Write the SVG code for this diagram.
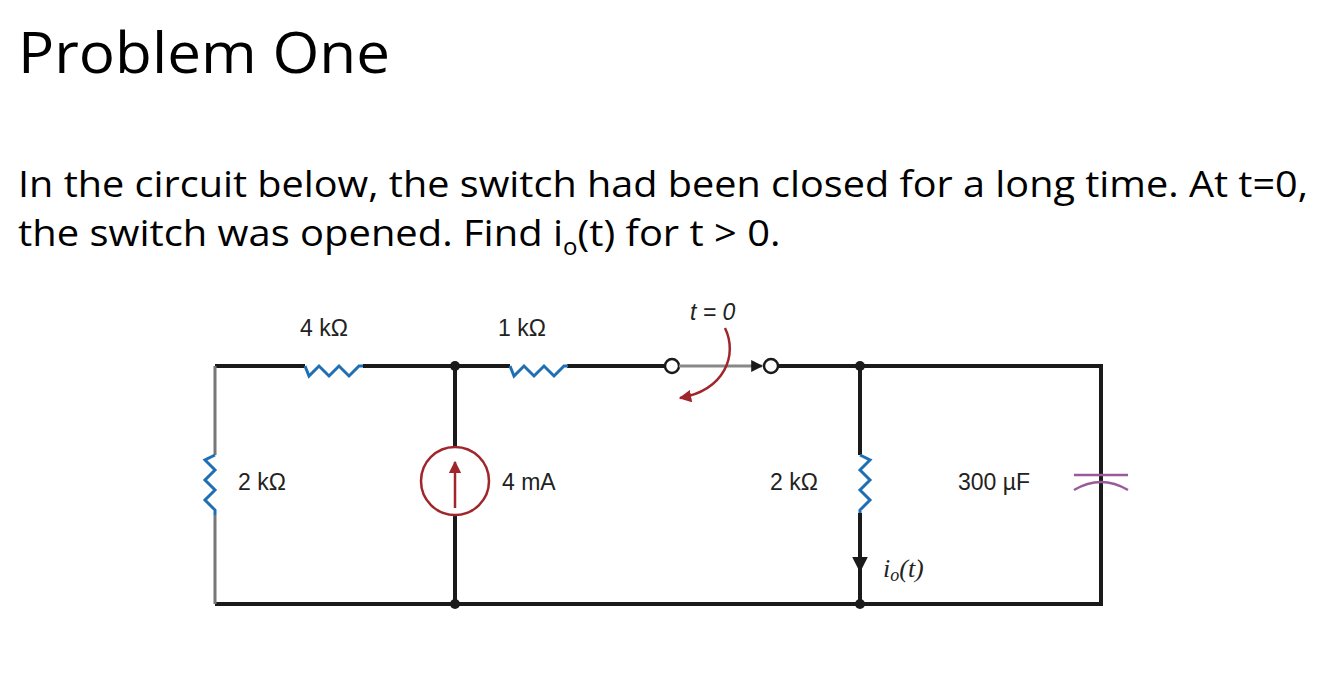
<svg xmlns="http://www.w3.org/2000/svg" width="1332" height="683" viewBox="0 0 1332 683">
<style>
.t{font-family:"Open Sans","Liberation Sans",sans-serif;fill:#000}
.l{font-family:"Liberation Sans",Arial,sans-serif;font-size:23px;fill:#222}
.w{stroke:#1a1a1a;stroke-width:4;fill:none}
.r{stroke:#1f6fb5;stroke-width:3;fill:none;stroke-linejoin:miter}
</style>
<defs>
<marker id="ah" viewBox="0 0 10 10" refX="9" refY="5" markerWidth="4" markerHeight="4" orient="auto"><path d="M0,0L10,5L0,10z" fill="#1a1a1a"/></marker>
<marker id="ahr" viewBox="0 0 10 10" refX="9" refY="5" markerWidth="5" markerHeight="5" orient="auto"><path d="M0,0L10,5L0,10z" fill="#a0262c"/></marker>
</defs>
<rect width="1332" height="683" fill="#fff"/>
<text class="t" x="18" y="73" font-size="56" textLength="372" lengthAdjust="spacingAndGlyphs">Problem One</text>
<text class="t" x="18" y="197" font-size="36" textLength="1290" lengthAdjust="spacingAndGlyphs">In the circuit below, the switch had been closed for a long time. At t=0,</text>
<text class="t" x="18" y="246" font-size="36"><tspan textLength="545" lengthAdjust="spacingAndGlyphs">the switch was opened. Find i</tspan><tspan font-size="24" dy="9">o</tspan><tspan dy="-9" textLength="203" lengthAdjust="spacingAndGlyphs">(t) for t &gt; 0.</tspan></text>
<g id="connectors">
<path class="w" d="M215,366H305M363,366H510M567,366H666M778,366H1101V604H215" />
<path d="M215,366V455M215,515V604" stroke="#777" stroke-width="3" fill="none"/>
<path class="w" d="M455,366V447M455,515V604"/>
<path class="w" d="M860,366V455M860,513V604"/>
<path d="M860,556V571" stroke="#1a1a1a" stroke-width="4" marker-end="url(#ah)"/>
</g>
<g id="r4k"><path class="r" d="M305,366l4,10 10,-10 10,10 10,-10 10,10 10,-10 4,0"/><text class="l" x="300" y="336">4 kΩ</text></g>
<g id="r1k"><path class="r" d="M510,366l4,10 10,-10 10,10 10,-10 10,10 10,-10 4,0"/><text class="l" x="498" y="336">1 kΩ</text></g>
<g id="r2kL"><path class="r" d="M215,455l-10,5 10,10 -10,10 10,10 -10,10 10,10 0,5"/><text class="l" x="238" y="490">2 kΩ</text></g>
<g id="isrc"><circle cx="455" cy="481" r="34" fill="none" stroke="#a0262c" stroke-width="2.5"/><path d="M455,508V462" stroke="#a0262c" stroke-width="2.5" marker-end="url(#ahr)"/><text class="l" x="502" y="490">4 mA</text></g>
<g id="switch"><circle cx="672" cy="366" r="7" fill="#fff" stroke="#1a1a1a" stroke-width="2.5"/><circle cx="771" cy="366" r="7" fill="#fff" stroke="#1a1a1a" stroke-width="2.5"/><path d="M679,366H762" stroke="#888" stroke-width="3" marker-end="url(#ah)"/><path d="M725,328C738,355 725,390 680,398" stroke="#a0262c" stroke-width="2.5" fill="none" marker-end="url(#ahr)"/><text class="l" x="690" y="320" font-style="italic">t = 0</text></g>
<g id="r2kR"><path class="r" d="M860,455l10,5 -10,10 10,10 -10,10 10,10 -10,10 0,3"/><text class="l" x="770" y="490">2 kΩ</text></g>
<g id="cap"><path d="M1074,475H1128" stroke="#9a5a9a" stroke-width="2.5"/><path d="M1074,490Q1101,474 1128,490" stroke="#9a5a9a" stroke-width="2.5" fill="none"/><text class="l" x="958" y="490">300 µF</text></g>
<text x="883" y="577" font-family="Liberation Serif,serif" font-style="italic" font-size="26" fill="#222">i<tspan font-size="18" dy="4">o</tspan><tspan dy="-4">(t)</tspan></text>
<g fill="#1a1a1a"><circle cx="455" cy="366" r="5"/><circle cx="860" cy="366" r="5"/><circle cx="455" cy="604" r="5"/><circle cx="860" cy="604" r="5"/></g>
</svg>
